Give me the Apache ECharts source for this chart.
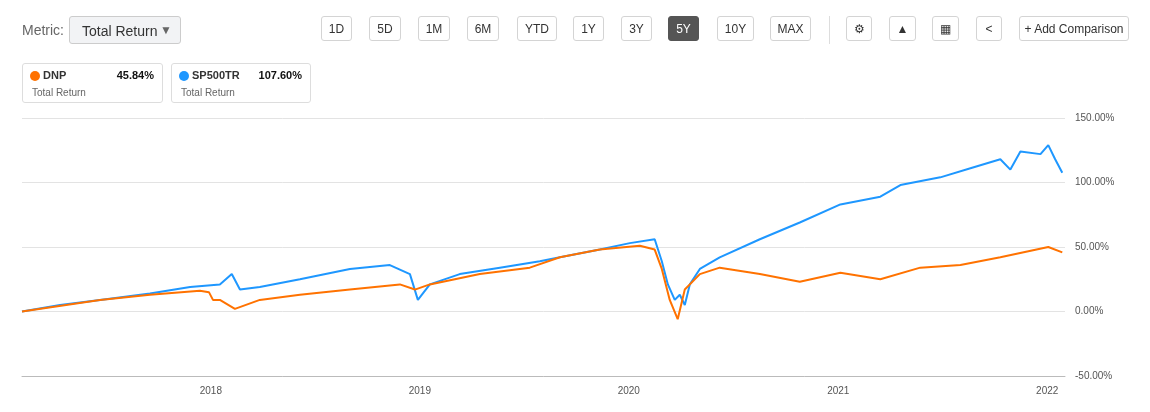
<!DOCTYPE html>
<html>
<head>
<meta charset="utf-8">
<script src="https://cdn.jsdelivr.net/npm/echarts@6/dist/echarts.min.js"></script>
<style>
  body { margin: 0; width: 1150px; height: 412px; background: #fff; font-family: Arial, "Liberation Sans", sans-serif; position: relative; overflow: hidden; }
  #chart { position: absolute; left: 0; top: 0; width: 1150px; height: 412px; }
  .btn { position: absolute; top: 16px; height: 25px; border: 1px solid #d4d4d4; border-radius: 3px; background: #fff; font-size: 12px; color: #333; display: flex; align-items: center; justify-content: center; box-sizing: border-box; }
  .btn.on { background: #555; color: #fff; border-color: #555; }
  .metric { position: absolute; left: 22px; top: 22px; font-size: 14px; color: #666; }
  .sel { position: absolute; left: 69px; top: 16px; width: 112px; height: 28px; border: 1px solid #ccc; border-radius: 3px; background: #f2f3f5; font-size: 14px; color: #333; box-sizing: border-box; padding: 6px 0 0 12px; }
  .sel span { position: absolute; right: 8px; top: 6px; color: #666; font-size: 12px; }
  .leg { position: absolute; top: 63px; height: 40px; border: 1px solid #ddd; border-radius: 3px; box-sizing: border-box; font-size: 11px; }
  .leg .dot { position: absolute; left: 7px; top: 7px; width: 10px; height: 10px; border-radius: 50%; }
  .leg .nm { position: absolute; left: 20px; top: 5px; font-weight: bold; color: #333; }
  .leg .val { position: absolute; right: 8px; top: 5px; font-weight: bold; color: #111; }
  .leg .sub { position: absolute; left: 9px; top: 23px; font-size: 10px; color: #666; }
  .sep { position: absolute; left: 829px; top: 16px; width: 1px; height: 28px; background: #ddd; }
</style>
</head>
<body>
<div id="chart"></div>
<div class="metric">Metric:</div>
<div class="sel">Total Return<span>&#9660;</span></div>
<div class="btn" style="left:321px;width:31px">1D</div>
<div class="btn" style="left:369px;width:32px">5D</div>
<div class="btn" style="left:418px;width:32px">1M</div>
<div class="btn" style="left:467px;width:32px">6M</div>
<div class="btn" style="left:517px;width:40px">YTD</div>
<div class="btn" style="left:573px;width:31px">1Y</div>
<div class="btn" style="left:621px;width:31px">3Y</div>
<div class="btn on" style="left:668px;width:31px">5Y</div>
<div class="btn" style="left:717px;width:37px">10Y</div>
<div class="btn" style="left:770px;width:41px">MAX</div>
<div class="sep"></div>
<div class="btn" style="left:846px;width:26px">&#9881;</div>
<div class="btn" style="left:889px;width:27px">&#9650;</div>
<div class="btn" style="left:932px;width:27px">&#9638;</div>
<div class="btn" style="left:976px;width:26px">&lt;</div>
<div class="btn" style="left:1019px;width:110px">+ Add Comparison</div>
<div class="leg" style="left:22px;width:141px"><div class="dot" style="background:#ff7200"></div><div class="nm">DNP</div><div class="val">45.84%</div><div class="sub">Total Return</div></div>
<div class="leg" style="left:171px;width:140px"><div class="dot" style="background:#1e97ff"></div><div class="nm">SP500TR</div><div class="val">107.60%</div><div class="sub">Total Return</div></div>
<script>
// dates as decimal years, values in % total return
const spYears = [2017.096, 2017.278, 2017.469, 2017.708, 2017.900, 2018.043, 2018.100, 2018.139, 2018.234, 2018.426, 2018.665, 2018.856, 2018.952, 2018.990, 2019.048, 2019.191, 2019.383, 2019.574, 2019.670, 2019.861, 2020.005, 2020.124, 2020.158, 2020.187, 2020.220, 2020.244, 2020.268, 2020.292, 2020.340, 2020.435, 2020.627, 2020.818, 2021.010, 2021.201, 2021.297, 2021.488, 2021.632, 2021.775, 2021.823, 2021.871, 2021.967, 2022.005, 2022.038, 2022.072]
const spValues = [0, 5, 9, 14, 19, 21, 29, 17, 19, 25, 33, 36, 29, 9, 21, 29, 34, 39, 42, 48, 53, 56, 39, 21, 9, 13, 5, 21, 33, 42, 56, 69, 83, 89, 98, 104, 111, 118, 110, 124, 122, 129, 118, 107.6]
const dnpYears = [2017.096, 2017.469, 2017.708, 2017.947, 2017.990, 2018.010, 2018.043, 2018.115, 2018.234, 2018.426, 2018.665, 2018.904, 2018.976, 2019.048, 2019.287, 2019.526, 2019.670, 2019.861, 2020.053, 2020.124, 2020.158, 2020.196, 2020.234, 2020.268, 2020.340, 2020.435, 2020.627, 2020.818, 2021.010, 2021.201, 2021.392, 2021.584, 2021.775, 2022.005, 2022.072]
const dnpValues = [0, 9, 13, 16, 15, 9, 9, 2, 9, 13, 17, 21, 17, 21, 29, 34, 42, 48, 51, 48, 33, 9, -6, 17, 29, 34, 29, 23, 30, 25, 34, 36, 42, 50, 45.84]

const yearMs = 365.25 * 24 * 3600 * 1000
function toTime(y) {
  const yr = Math.floor(y)
  return Date.UTC(yr, 0, 1) + (y - yr) * yearMs
}
const pairs = (ys, vs) => ys.map((y, i) => [toTime(y), vs[i]])

let myChart = echarts.init(document.getElementById('chart'), null, { renderer: 'canvas' })

myChart.setOption({
  animation: false,
  grid: { left: 22, right: 85, top: 118, bottom: 36 },
  xAxis: {
    type: 'time',
    min: toTime(2017.096),
    max: toTime(2022.085),
    splitNumber: 5,
    axisLine: { onZero: false, lineStyle: { color: '#bbb' } },
    axisTick: { show: false },
    splitLine: { show: false },
    axisLabel: {
      color: '#555', fontSize: 10, margin: 10, hideOverlap: false,
      formatter: v => {
        const d = new Date(v)
        return d.getUTCMonth() === 0 && d.getUTCDate() === 1 ? String(d.getUTCFullYear()) : ''
      }
    }
  },
  yAxis: {
    type: 'value',
    position: 'right',
    min: -50, max: 150, interval: 50,
    axisLine: { show: false },
    axisTick: { show: false },
    splitLine: { lineStyle: { color: '#e3e3e3' } },
    axisLabel: { color: '#555', fontSize: 10, margin: 10, formatter: v => v.toFixed(2) + '%' }
  },
  series: [
    { name: 'SP500TR', type: 'line', data: pairs(spYears, spValues), showSymbol: false, lineStyle: { color: '#1e97ff', width: 2 }, itemStyle: { color: '#1e97ff' } },
    { name: 'DNP', type: 'line', data: pairs(dnpYears, dnpValues), showSymbol: false, lineStyle: { color: '#ff7200', width: 2 }, itemStyle: { color: '#ff7200' } }
  ]
})
</script>
</body>
</html>
